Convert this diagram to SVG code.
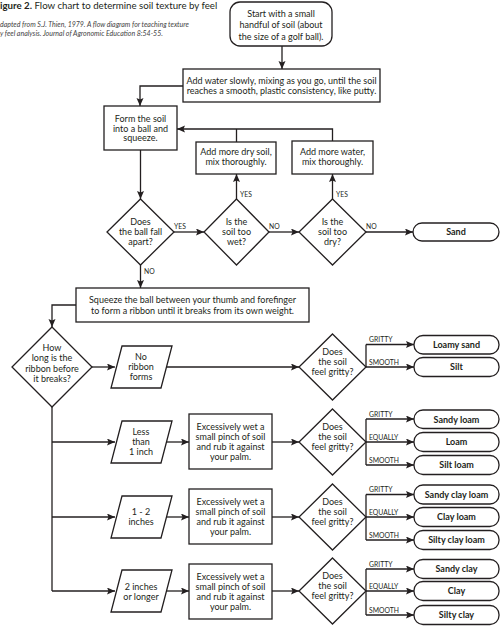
<svg xmlns="http://www.w3.org/2000/svg" width="500" height="626" viewBox="0 0 500 626">
<defs>
<marker id="arr" markerUnits="userSpaceOnUse" markerWidth="9" markerHeight="8" refX="8" refY="3.5" orient="auto">
<path d="M0,0 L8,3.5 L0,7 L1.5,3.5 z" fill="#231f20"/>
</marker>
</defs>
<style>
text{font-family:Lato,"Liberation Sans",sans-serif;fill:#231f20;font-size:9px;text-anchor:middle}
.shape{fill:#fff;stroke:#231f20;stroke-width:1.3}
.conn path{fill:none;stroke:#231f20;stroke-width:1.3}
.arrow{marker-end:url(#arr)}
.lbl{font-size:6.8px;text-anchor:start}
.term text{font-weight:bold}
.title{text-anchor:start;font-size:9.7px}
.sub{text-anchor:start;font-size:7px;font-style:italic;fill:#444}
</style>
<rect width="500" height="626" fill="#fff"/>
<g id="title">
<text class="title" x="0" y="9"><tspan font-weight="bold">igure 2.</tspan> Flow chart to determine soil texture by feel</text>
<text class="sub" x="0" y="27">dapted from S.J. Thien, 1979. A flow diagram for teaching texture</text>
<text class="sub" x="0" y="36">y feel analysis. Journal of Agronomic Education 8:54-55.</text>
</g>
<g class="conn">
<path class="arrow" d="M282,46 V69"/>
<path class="arrow" d="M183,86 H140 V106"/>
<path class="arrow" d="M140.5,150 V199"/>
<path class="arrow" d="M174,232 H204"/>
<path class="arrow" d="M269,232 H299"/>
<path class="arrow" d="M366,232 H413"/>
<path class="arrow" d="M236.5,199 V174"/>
<path class="arrow" d="M332.5,199 V174"/>
<path d="M236.5,142 V129"/>
<path class="arrow" d="M332.5,141 V129 H177"/>
<path class="arrow" d="M140.5,265 V288"/>
<path class="arrow" d="M76,305 H52 V327"/>
<path class="arrow" d="M92,367 H115"/>
<path d="M52,407 V591"/>
<path class="arrow" d="M52,442 H115"/>
<path class="arrow" d="M52,517 H115"/>
<path class="arrow" d="M52,591 H115"/>
<path class="arrow" d="M166.5,367 H299"/>
<path class="arrow" d="M166.5,442 H189"/>
<path class="arrow" d="M166.5,517 H189"/>
<path class="arrow" d="M166.5,591 H189"/>
<path class="arrow" d="M272,442 H299"/>
<path class="arrow" d="M272,517 H299"/>
<path class="arrow" d="M272,591 H299"/>
<path class="arrow" d="M366,344.5 H414"/>
<path class="arrow" d="M366,367 H414"/>
<path d="M366,344.5 V367"/>
<path class="arrow" d="M366,419 H414"/>
<path class="arrow" d="M366,442 H414"/>
<path class="arrow" d="M366,465 H414"/>
<path d="M366,419 V465"/>
<path class="arrow" d="M366,494.5 H414"/>
<path class="arrow" d="M366,517 H414"/>
<path class="arrow" d="M366,540 H414"/>
<path d="M366,494.5 V540"/>
<path class="arrow" d="M366,569 H414"/>
<path class="arrow" d="M366,591 H414"/>
<path class="arrow" d="M366,615 H414"/>
<path d="M366,569 V615"/>
</g>
<g id="labels">
<text class="lbl" x="174" y="229">YES</text>
<text class="lbl" x="240" y="197">YES</text>
<text class="lbl" x="269" y="229">NO</text>
<text class="lbl" x="336" y="197">YES</text>
<text class="lbl" x="366" y="229">NO</text>
<text class="lbl" x="144" y="274">NO</text>
<text class="lbl" x="369" y="342">GRITTY</text>
<text class="lbl" x="369" y="364.5">SMOOTH</text>
<text class="lbl" x="369" y="416.5">GRITTY</text>
<text class="lbl" x="369" y="439.5">EQUALLY</text>
<text class="lbl" x="369" y="462.5">SMOOTH</text>
<text class="lbl" x="369" y="492">GRITTY</text>
<text class="lbl" x="369" y="514.5">EQUALLY</text>
<text class="lbl" x="369" y="537.5">SMOOTH</text>
<text class="lbl" x="369" y="566.5">GRITTY</text>
<text class="lbl" x="369" y="588.5">EQUALLY</text>
<text class="lbl" x="369" y="612.5">SMOOTH</text>
</g>
<g id="start">
<rect class="shape" x="230" y="2" width="102" height="44" rx="10"/>
<text x="281" y="16.5">Start with a small</text>
<text x="281" y="28">handful of soil (about</text>
<text x="281" y="39.5">the size of a golf ball).</text>
</g>
<g id="addwater">
<rect class="shape" x="183" y="69" width="197" height="33"/>
<text x="281.5" y="83.5">Add water slowly, mixing as you go, until the soil</text>
<text x="281.5" y="94">reaches a smooth, plastic consistency, like putty.</text>
</g>
<g id="form">
<rect class="shape" x="104" y="106" width="73" height="44"/>
<text x="140.5" y="122">Form the soil</text>
<text x="140.5" y="131.5">into a ball and</text>
<text x="140.5" y="141">squeeze.</text>
</g>
<g id="drysoil">
<rect class="shape" x="196" y="142" width="80" height="32"/>
<text x="236" y="155">Add more dry soil,</text>
<text x="236" y="165">mix thoroughly.</text>
</g>
<g id="water">
<rect class="shape" x="292" y="141" width="81" height="33"/>
<text x="332.5" y="155">Add more water,</text>
<text x="332.5" y="165">mix thoroughly.</text>
</g>
<g id="ballfall">
<polygon class="shape" points="140.5,199 174,232 140.5,265 107,232"/>
<text x="140.5" y="225">Does</text>
<text x="140.5" y="235">the ball fall</text>
<text x="140.5" y="244.5">apart?</text>
</g>
<g id="toowet">
<polygon class="shape" points="236.5,199 269,232 236.5,265 204,232"/>
<text x="236.5" y="225">Is the</text>
<text x="236.5" y="235">soil too</text>
<text x="236.5" y="244.5">wet?</text>
</g>
<g id="toodry">
<polygon class="shape" points="332.5,199 366,232 332.5,265 299,232"/>
<text x="332.5" y="225">Is the</text>
<text x="332.5" y="235">soil too</text>
<text x="332.5" y="244.5">dry?</text>
</g>
<g id="sand" class="term">
<rect class="shape" x="413" y="223" width="86" height="18" rx="9"/>
<text x="456" y="235">Sand</text>
</g>
<g id="squeeze">
<rect class="shape" x="76" y="288" width="233" height="34"/>
<text x="192.5" y="303">Squeeze the ball between your thumb and forefinger</text>
<text x="192.5" y="313.5">to form a ribbon until it breaks from its own weight.</text>
</g>
<g id="ribbon">
<polygon class="shape" points="52,327 92,367 52,407 12,367"/>
<text x="52" y="351">How</text>
<text x="52" y="361">long is the</text>
<text x="52" y="371.5">ribbon before</text>
<text x="52" y="381.5">it breaks?</text>
</g>
<g id="noribbon">
<polygon class="shape" points="122,346 172,346 161,388 111,388"/>
<text x="141" y="360">No</text>
<text x="141" y="370">ribbon</text>
<text x="141" y="380">forms</text>
</g>
<g id="lessthan1">
<polygon class="shape" points="122,421 172,421 161,463 111,463"/>
<text x="141" y="435">Less</text>
<text x="141" y="445">than</text>
<text x="141" y="455">1 inch</text>
</g>
<g id="onetwo">
<polygon class="shape" points="122,496 172,496 161,538 111,538"/>
<text x="141" y="515">1 - 2</text>
<text x="141" y="525">inches</text>
</g>
<g id="twoplus">
<polygon class="shape" points="122,570 172,570 161,612 111,612"/>
<text x="141" y="590">2 inches</text>
<text x="141" y="600">or longer</text>
</g>
<g id="wet1">
<rect class="shape" x="189" y="414" width="83" height="55"/>
<text x="230.5" y="430">Excessively wet a</text>
<text x="230.5" y="440">small pinch of soil</text>
<text x="230.5" y="450">and rub it against</text>
<text x="230.5" y="460">your palm.</text>
</g>
<g id="wet2">
<rect class="shape" x="189" y="489" width="83" height="55"/>
<text x="230.5" y="505">Excessively wet a</text>
<text x="230.5" y="515">small pinch of soil</text>
<text x="230.5" y="525">and rub it against</text>
<text x="230.5" y="535">your palm.</text>
</g>
<g id="wet3">
<rect class="shape" x="189" y="564" width="83" height="55"/>
<text x="230.5" y="580">Excessively wet a</text>
<text x="230.5" y="590">small pinch of soil</text>
<text x="230.5" y="600">and rub it against</text>
<text x="230.5" y="610">your palm.</text>
</g>
<g id="gritty1">
<polygon class="shape" points="332.5,334 366,367 332.5,400 299,367"/>
<text x="332.5" y="355">Does</text>
<text x="332.5" y="365">the soil</text>
<text x="332.5" y="375">feel gritty?</text>
</g>
<g id="gritty2">
<polygon class="shape" points="332.5,409 366,442 332.5,475 299,442"/>
<text x="332.5" y="430">Does</text>
<text x="332.5" y="440">the soil</text>
<text x="332.5" y="450">feel gritty?</text>
</g>
<g id="gritty3">
<polygon class="shape" points="332.5,484 366,517 332.5,550 299,517"/>
<text x="332.5" y="505">Does</text>
<text x="332.5" y="515">the soil</text>
<text x="332.5" y="525">feel gritty?</text>
</g>
<g id="gritty4">
<polygon class="shape" points="332.5,558 366,591 332.5,624 299,591"/>
<text x="332.5" y="579">Does</text>
<text x="332.5" y="589">the soil</text>
<text x="332.5" y="599">feel gritty?</text>
</g>
<g id="loamysand" class="term"><rect class="shape" x="414" y="335.5" width="85" height="18.5" rx="9"/><text x="456.5" y="348">Loamy sand</text></g>
<g id="silt" class="term"><rect class="shape" x="414" y="357.5" width="85" height="19" rx="9"/><text x="456.5" y="370">Silt</text></g>
<g id="sandyloam" class="term"><rect class="shape" x="414" y="410" width="85" height="18.5" rx="9"/><text x="456.5" y="422.5">Sandy loam</text></g>
<g id="loam" class="term"><rect class="shape" x="414" y="432.5" width="85" height="19" rx="9"/><text x="456.5" y="445">Loam</text></g>
<g id="siltloam" class="term"><rect class="shape" x="414" y="455.5" width="85" height="19" rx="9"/><text x="456.5" y="468">Silt loam</text></g>
<g id="sandyclayloam" class="term"><rect class="shape" x="414" y="485" width="85" height="19" rx="9"/><text x="456.5" y="497.5">Sandy clay loam</text></g>
<g id="clayloam" class="term"><rect class="shape" x="414" y="507.5" width="85" height="19" rx="9"/><text x="456.5" y="520">Clay loam</text></g>
<g id="siltyclayloam" class="term"><rect class="shape" x="414" y="530.5" width="85" height="19" rx="9"/><text x="456.5" y="543">Silty clay loam</text></g>
<g id="sandyclay" class="term"><rect class="shape" x="414" y="559.5" width="85" height="19" rx="9"/><text x="456.5" y="572">Sandy clay</text></g>
<g id="clay" class="term"><rect class="shape" x="414" y="581.5" width="85" height="19" rx="9"/><text x="456.5" y="594">Clay</text></g>
<g id="siltyclay" class="term"><rect class="shape" x="414" y="605.5" width="85" height="19" rx="9"/><text x="456.5" y="618">Silty clay</text></g>
</svg>
